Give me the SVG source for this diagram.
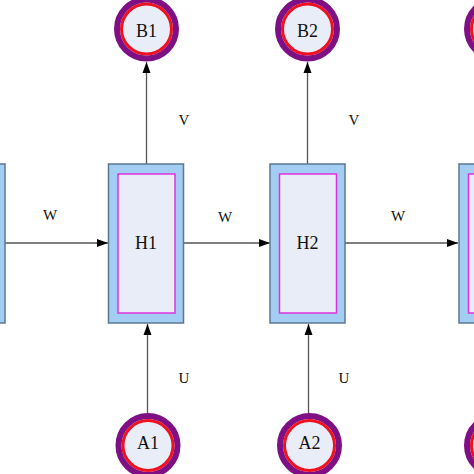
<svg xmlns="http://www.w3.org/2000/svg" width="474" height="474" viewBox="0 0 474 474">
<style>
.outer{fill:#a3cdf3;stroke:#5b7894;stroke-width:1.5}
.inner{fill:#e9edf7;stroke:#dd33dd;stroke-width:1.5}
.ring{fill:#e9edf7;stroke:#7f0f85;stroke-width:6}
.red{fill:none;stroke:#ee1122;stroke-width:3}
.lbl{font-family:"Liberation Serif",serif;font-size:18px;fill:#111;text-anchor:middle;dominant-baseline:central}
.edge{stroke:#555;stroke-width:1.3;fill:none;marker-end:url(#ah)}
.el{font-family:"Liberation Serif",serif;font-size:15px;fill:#111;text-anchor:middle;dominant-baseline:central}
</style>
<defs>
<marker id="ah" viewBox="0 0 11 9" refX="11" refY="4.5" markerWidth="11" markerHeight="9" markerUnits="userSpaceOnUse" orient="auto">
<path d="M0,0.5 L11,4.5 L0,8.5 z" fill="#000"/>
</marker>
</defs>
<g id="edges">
<line class="edge" x1="5" y1="243" x2="108" y2="243"/>
<line class="edge" x1="184" y1="243" x2="270" y2="243"/>
<line class="edge" x1="345" y1="243" x2="458" y2="243"/>
<line class="edge" x1="146.5" y1="164" x2="146.5" y2="62"/>
<line class="edge" x1="307.5" y1="164" x2="307.5" y2="62"/>
<line class="edge" x1="147.5" y1="413" x2="147.5" y2="324"/>
<line class="edge" x1="308.5" y1="413" x2="308.5" y2="324"/>
<text class="el" x="50" y="215">W</text>
<text class="el" x="225" y="217">W</text>
<text class="el" x="398" y="216">W</text>
<text class="el" x="184" y="120">V</text>
<text class="el" x="354" y="120">V</text>
<text class="el" x="184" y="378">U</text>
<text class="el" x="344" y="378">U</text>
</g>
<g id="H0"><rect class="outer" x="-54" y="164" width="59" height="159"/><rect class="inner" x="-44" y="174" width="40" height="139"/></g>
<g id="H1"><rect class="outer" x="108.5" y="164" width="75" height="159"/><rect class="inner" x="118" y="174" width="57" height="139"/><text class="lbl" x="146" y="243">H1</text></g>
<g id="H2"><rect class="outer" x="270" y="164" width="75" height="159"/><rect class="inner" x="279.5" y="174" width="57" height="139"/><text class="lbl" x="307.5" y="243">H2</text></g>
<g id="H3"><rect class="outer" x="459" y="164" width="75" height="159"/><rect class="inner" x="468.5" y="174" width="57" height="139"/></g>
<g id="B1"><circle class="ring" cx="146.5" cy="29" r="29.5"/><circle class="red" cx="146.5" cy="29" r="25"/><text class="lbl" x="146.5" y="31">B1</text></g>
<g id="B2"><circle class="ring" cx="307.5" cy="29" r="29.5"/><circle class="red" cx="307.5" cy="29" r="25"/><text class="lbl" x="307.5" y="31">B2</text></g>
<g id="B3"><circle class="ring" cx="496.5" cy="29" r="29.5"/><circle class="red" cx="496.5" cy="29" r="25"/></g>
<g id="A1"><circle class="ring" cx="148" cy="445.5" r="29.5"/><circle class="red" cx="148" cy="445.5" r="25"/><text class="lbl" x="148" y="443">A1</text></g>
<g id="A2"><circle class="ring" cx="309.5" cy="445.5" r="29.5"/><circle class="red" cx="309.5" cy="445.5" r="25"/><text class="lbl" x="309.5" y="443">A2</text></g>
<g id="A3"><circle class="ring" cx="496.5" cy="445.5" r="29.5"/><circle class="red" cx="496.5" cy="445.5" r="25"/></g>
</svg>
